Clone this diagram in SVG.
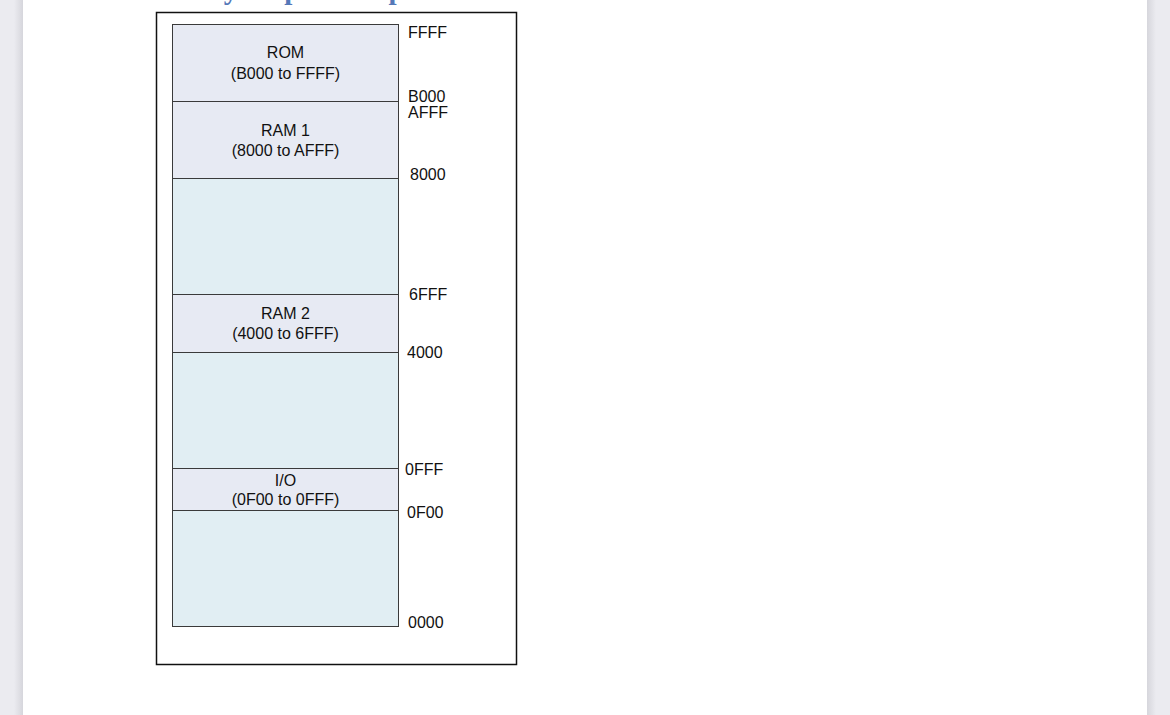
<svg xmlns="http://www.w3.org/2000/svg" width="1170" height="715" viewBox="0 0 1170 715">
<defs>
<linearGradient id="shL" x1="0" x2="1" y1="0" y2="0">
<stop offset="0" stop-color="#ebebf0"/><stop offset="1" stop-color="#d6d6dc"/>
</linearGradient>
<linearGradient id="shR" x1="0" x2="1" y1="0" y2="0">
<stop offset="0" stop-color="#d6d6dc"/><stop offset="1" stop-color="#ebebf0"/>
</linearGradient>
<style>
.seg{stroke:#3a3a3a;stroke-width:1}
.used{fill:#e7eaf3}
.free{fill:#e1eef3}
.lbl{font-family:"Liberation Sans",Arial,sans-serif;font-size:16px;fill:#111;text-anchor:middle}
.addr{font-family:"Liberation Sans",Arial,sans-serif;font-size:16px;fill:#111}
.title{font-family:"Liberation Serif","Times New Roman",serif;font-size:29px;font-weight:bold;fill:#5578b8}
</style>
</defs>
<rect x="0" y="0" width="1170" height="715" fill="#ebebf0"/>
<rect x="14" y="0" width="9" height="715" fill="url(#shL)"/>
<rect x="1147" y="0" width="9" height="715" fill="url(#shR)"/>
<rect x="23" y="0" width="1124" height="715" fill="#ffffff"/>
<text class="title" x="132" y="-1.5">Memory map<tspan dx="15"> example</tspan></text>
<g id="frame">
<rect x="156.5" y="12.5" width="360" height="652" fill="#ffffff" stroke="#111" stroke-width="1.5"/>
</g>
<g id="rom">
<rect class="seg used" x="172.5" y="24.5" width="226" height="77"/>
<text class="lbl" x="285.5" y="58">ROM</text>
<text class="lbl" x="285.5" y="79">(B000 to FFFF)</text>
</g>
<g id="ram1">
<rect class="seg used" x="172.5" y="101.5" width="226" height="77"/>
<text class="lbl" x="285.5" y="136">RAM 1</text>
<text class="lbl" x="285.5" y="156">(8000 to AFFF)</text>
</g>
<g id="free1">
<rect class="seg free" x="172.5" y="178.5" width="226" height="116"/>
</g>
<g id="ram2">
<rect class="seg used" x="172.5" y="294.5" width="226" height="58"/>
<text class="lbl" x="285.5" y="319">RAM 2</text>
<text class="lbl" x="285.5" y="339">(4000 to 6FFF)</text>
</g>
<g id="free2">
<rect class="seg free" x="172.5" y="352.5" width="226" height="116"/>
</g>
<g id="io">
<rect class="seg used" x="172.5" y="468.5" width="226" height="42"/>
<text class="lbl" x="285.5" y="486">I/O</text>
<text class="lbl" x="285.5" y="505">(0F00 to 0FFF)</text>
</g>
<g id="free3">
<rect class="seg free" x="172.5" y="510.5" width="226" height="116"/>
</g>
<g id="connectors"></g>
<g id="addresses">
<text class="addr" x="408" y="38">FFFF</text>
<text class="addr" x="408" y="101.5">B000</text>
<text class="addr" x="408" y="117.5">AFFF</text>
<text class="addr" x="410" y="180">8000</text>
<text class="addr" x="409" y="300">6FFF</text>
<text class="addr" x="407" y="358">4000</text>
<text class="addr" x="405" y="475">0FFF</text>
<text class="addr" x="407" y="517.5">0F00</text>
<text class="addr" x="408" y="627.5">0000</text>
</g>
</svg>
